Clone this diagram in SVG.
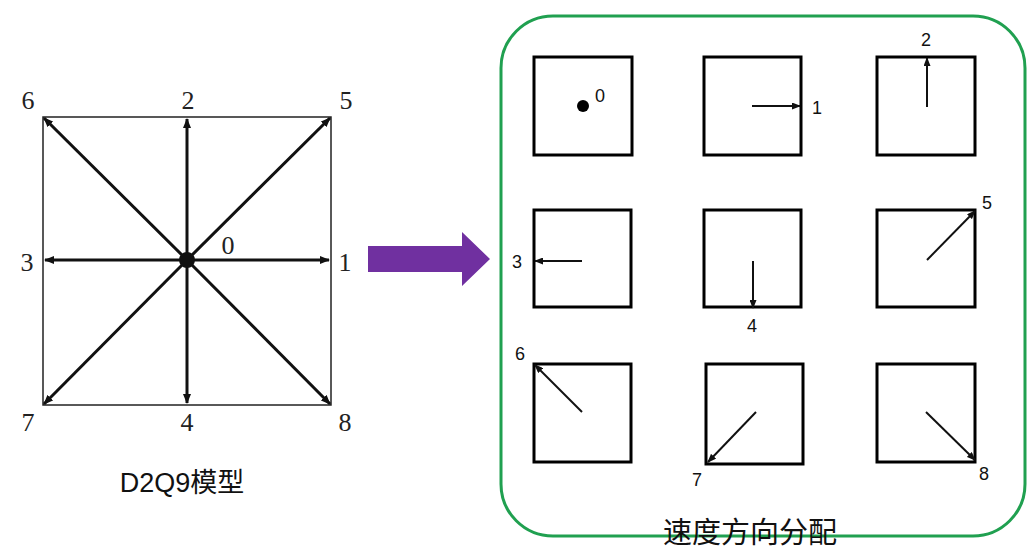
<svg xmlns="http://www.w3.org/2000/svg" width="1035" height="559" viewBox="0 0 1035 559">
<style>
.s{font-family:"Liberation Serif",serif;font-size:26px;fill:#222;text-anchor:middle}
.n{font-family:"Liberation Sans",sans-serif;font-size:18px;fill:#111;text-anchor:middle}
.c{font-family:"Liberation Sans","Noto Sans CJK SC",sans-serif;fill:#111;text-anchor:middle}
.la{stroke:#111;stroke-width:3;marker-end:url(#ah)}
.sa{stroke:#111;stroke-width:2;marker-end:url(#sh)}
.bx{fill:#fff;stroke:#000;stroke-width:3}
</style>
<defs>
<marker id="ah" markerWidth="10" markerHeight="8" refX="9" refY="4" orient="auto" markerUnits="userSpaceOnUse" viewBox="0 0 10 8"><path d="M0,0L10,4L0,8z" fill="#111"/></marker>
<marker id="sh" markerWidth="9" markerHeight="7" refX="8" refY="3.5" orient="auto" markerUnits="userSpaceOnUse" viewBox="0 0 9 7"><path d="M0,0L9,3.5L0,7z" fill="#111"/></marker>
</defs>
<rect width="1035" height="559" fill="#fff"/>
<g id="d2q9">
<rect x="43" y="117" width="288" height="288" fill="none" stroke="#222" stroke-width="1.5"/>
</g>
<g id="bigarrow"><path d="M368,246H462V232L490,259L462,286V272H368z" fill="#7030a0"/></g>
<g id="panel"><rect x="501" y="16" width="524" height="520" rx="52" fill="none" stroke="#20a050" stroke-width="3"/></g>
<g id="b0"><rect class="bx" x="534" y="57" width="98" height="98"/><circle cx="583" cy="106" r="6" fill="#000"/><text class="n" x="600" y="102">0</text></g>
<g id="b1"><rect class="bx" x="704" y="57" width="97" height="98"/><text class="n" x="817" y="114">1</text></g>
<g id="b2"><rect class="bx" x="877" y="57" width="98" height="98"/><text class="n" x="926" y="46">2</text></g>
<g id="b3"><rect class="bx" x="534" y="210" width="97" height="97"/><text class="n" x="517" y="268">3</text></g>
<g id="b4"><rect class="bx" x="704" y="210" width="97" height="97"/><text class="n" x="752" y="332">4</text></g>
<g id="b5"><rect class="bx" x="877" y="210" width="98" height="97"/><text class="n" x="987" y="209">5</text></g>
<g id="b6"><rect class="bx" x="534" y="364" width="97" height="98"/><text class="n" x="520" y="360">6</text></g>
<g id="b7"><rect class="bx" x="706" y="364" width="97" height="100"/><text class="n" x="697" y="486">7</text></g>
<g id="b8"><rect class="bx" x="877" y="364" width="98" height="98"/><text class="n" x="984" y="480">8</text></g>
<g id="connectors">
<line class="la" x1="187" y1="260" x2="329" y2="260"/>
<line class="la" x1="187" y1="260" x2="45" y2="260"/>
<line class="la" x1="187" y1="260" x2="187" y2="119"/>
<line class="la" x1="187" y1="260" x2="187" y2="403"/>
<line class="la" x1="187" y1="260" x2="330" y2="118"/>
<line class="la" x1="187" y1="260" x2="44" y2="118"/>
<line class="la" x1="187" y1="260" x2="44" y2="404"/>
<line class="la" x1="187" y1="260" x2="330" y2="404"/>
<line class="sa" x1="752" y1="106" x2="800" y2="106"/>
<line class="sa" x1="927" y1="107" x2="927" y2="58"/>
<line class="sa" x1="582" y1="261" x2="535" y2="261"/>
<line class="sa" x1="753" y1="261" x2="753" y2="308"/>
<line class="sa" x1="927" y1="260" x2="975" y2="211"/>
<line class="sa" x1="582" y1="412" x2="535" y2="365"/>
<line class="sa" x1="756" y1="412" x2="708" y2="462"/>
<line class="sa" x1="926" y1="412" x2="975" y2="460"/>
</g>
<circle cx="187" cy="260" r="8" fill="#111"/>
<g id="labels">
<text class="s" x="28" y="109">6</text><text class="s" x="188" y="109">2</text><text class="s" x="346" y="109">5</text>
<text class="s" x="27" y="271">3</text><text class="s" x="345" y="271">1</text><text class="s" x="228" y="254">0</text>
<text class="s" x="28" y="431">7</text><text class="s" x="187" y="431">4</text><text class="s" x="345" y="431">8</text>
<text class="c" x="182" y="492" font-size="27">D2Q9模型</text>
<text class="c" x="750" y="543" font-size="29">速度方向分配</text>
</g>
</svg>
